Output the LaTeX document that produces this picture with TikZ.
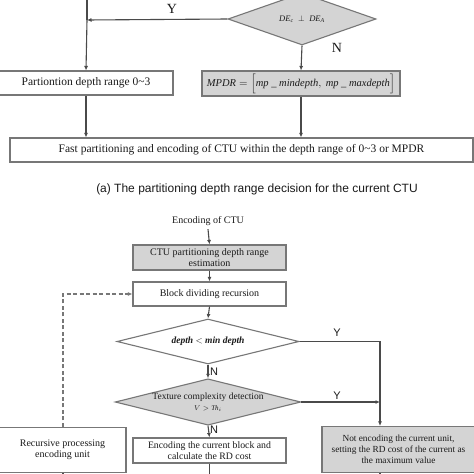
\documentclass[tikz,border=0pt]{standalone}
\usepackage{amsmath}
\usepackage{fontspec}
\setmainfont{Liberation Serif}
\newfontfamily\capfont{Liberation Sans}
\usetikzlibrary{shapes.geometric,arrows.meta}
\definecolor{linec}{HTML}{4A4A4A}
\definecolor{borderc}{HTML}{777777}
\definecolor{fillc}{HTML}{D4D4D4}
\definecolor{textc}{HTML}{1A1A1A}
\tikzset{
  boxw/.style={draw=borderc,line width=1.1pt,fill=white,inner sep=1pt,align=center,text=textc},
  boxg/.style={boxw,fill=fillc},
  dia/.style={diamond,draw=borderc,line width=1.1pt,inner sep=0pt,align=center,text=textc},
  arr/.style={draw=linec,line width=1.1pt,-{Latex[length=4.5pt,width=4pt]}},
  ln/.style={draw=linec,line width=1.1pt},
  lblser/.style={text=textc,font=\fontsize{14}{14}\selectfont},
  lblsans/.style={text=textc,font=\capfont\fontsize{11}{11}\selectfont},
}
\begin{document}
\begin{tikzpicture}[x=1pt,y=-1pt]
\useasboundingbox (0,0) rectangle (474,474);
\fill[white] (0,0) rectangle (474,474);
\clip (0,0) rectangle (474,474);
% ---------- part (a) ----------
\node[dia,fill=fillc,minimum width=148pt,minimum height=52pt,aspect=2.85] (dtop) at (302,19)
  {\fontsize{8.5}{8}\selectfont$\mathbf{\mathit{DE}_{\mathit{c}}}\ \perp\ \mathbf{\mathit{DE}_{\mathit{A}}}$};
\coordinate (ltop) at (87,-5);
\coordinate (ytop) at (87,20);
\node[boxw,minimum width=174pt,minimum height=24pt,font=\fontsize{11.5}{12}\selectfont] (part) at (86,83) {Partiontion depth range 0\textasciitilde3};
\node[boxg,minimum width=198pt,minimum height=25pt,font=\fontsize{10.5}{11}\selectfont] (mpdr) at (301,83.5)
  {$\mathit{MPDR}=\Big[\mathit{mp}\ \_\ \mathit{mindepth},\ \mathit{mp}\ \_\ \mathit{maxdepth}\Big]$};
\node[boxw,minimum width=463pt,minimum height=24pt,font=\fontsize{11.5}{12}\selectfont] (fast) at (241.5,150)
  {Fast partitioning and encoding of CTU within the depth range of 0\textasciitilde3 or MPDR};
\draw[ln] (ltop) -- (ytop);
\draw[arr] (dtop.west) -- (ytop);
\draw[arr] (ytop) -- (part.north);
\draw[arr] (dtop.south) -- (mpdr.north);
\draw[arr] (part.south) -- (part.south |- fast.north);
\draw[arr] (mpdr.south) -- (mpdr.south |- fast.north);
\node[lblser] (ylab) at (172,9) {Y};
\node[lblser] (nlab) at (337,48) {N};
\node[text=textc,font=\capfont\fontsize{12}{13}\selectfont] (capa) at (257,189)
  {(a) The partitioning depth range decision for the current CTU};
% ---------- part (b) ----------
\node[text=textc,font=\fontsize{10}{10}\selectfont] (enc) at (208,221) {Encoding of CTU};
\node[boxg,minimum width=153pt,minimum height=25pt,font=\fontsize{10}{10.5}\selectfont] (ctu) at (209.5,257.5)
  {CTU partitioning depth range\\estimation};
\node[boxw,minimum width=153pt,minimum height=24pt,font=\fontsize{10}{10.5}\selectfont] (blk) at (209.5,294)
  {Block dividing recursion};
\node[dia,fill=white,minimum width=182pt,minimum height=45pt,aspect=4] (d1) at (208,341.5)
  {\fontsize{9.5}{9}\selectfont\bfseries\itshape depth $<$ min depth};
\node[dia,fill=fillc,minimum width=182pt,minimum height=44pt,aspect=4] (d2) at (208,402)
  {\fontsize{9.5}{9}\selectfont Texture complexity detection\\[-1pt]\fontsize{7}{7}\selectfont$V>\mathit{Th}_i$};
\node[boxw,minimum width=153pt,minimum height=25pt,font=\fontsize{9.8}{10.5}\selectfont] (encb) at (209.5,450.5)
  {Encoding the current block and\\calculate the RD cost};
\node[boxw,minimum width=127pt,minimum height=45pt,font=\fontsize{10}{11}\selectfont] (rec) at (62.5,450)
  {Recursive processing\\encoding unit};
\node[boxg,minimum width=153pt,minimum height=46pt,font=\fontsize{9.3}{11}\selectfont] (notb) at (398.5,449.5)
  {Not encoding the current unit,\\setting the RD cost of the current as\\the maximum value};
\coordinate (yc1) at (380,341.5);
\coordinate (yc2) at (380,402);
\coordinate (bend) at (63,294);
\coordinate (e1) at (209.5,480);
\coordinate (e2) at (63,480);
\coordinate (e3) at (380,480);
\draw[arr] (enc.south) -- (ctu.north);
\draw[arr] (ctu.south) -- (blk.north);
\draw[arr] (blk.south) -- (d1.north);
\draw[arr] (d1.south) -- (d2.north);
\draw[arr] (d2.south) -- (encb.north);
\draw[ln] (d1.east) -- (yc1) -- (yc2);
\draw[arr] (yc2) -- (yc2 |- notb.north);
\draw[arr] (d2.east) -- (yc2);
\draw[arr,draw=borderc,dashed,dash pattern=on 4pt off 2.5pt] (rec.north -| bend) -- (bend) -- (blk.west);
\draw[ln] (encb.south) -- (e1);
\draw[ln] (rec.south -| e2) -- (e2);
\draw[ln] (notb.south -| e3) -- (e3);
\node[lblsans] (y1) at (337,333) {Y};
\node[lblsans] (n1) at (214,372) {N};
\node[lblsans] (y2) at (337,396) {Y};
\node[lblsans] (n2) at (214,430) {N};
\end{tikzpicture}
\end{document}
